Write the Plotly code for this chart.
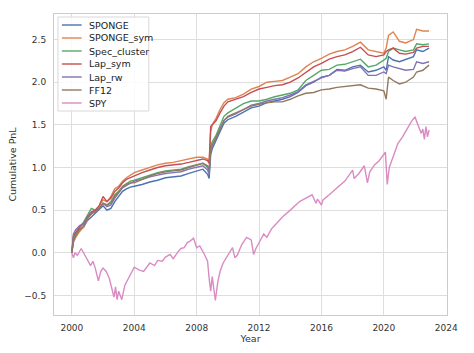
import plotly.graph_objects as go

# ---- data ----
years = [2000.0, 2000.1, 2000.25, 2000.5, 2000.75, 2001.0, 2001.25, 2001.5, 2001.75,
         2002.0, 2002.25, 2002.5, 2002.75, 2003.0, 2003.25, 2003.5, 2003.75, 2004.0,
         2004.5, 2005.0, 2005.5, 2006.0, 2006.5, 2007.0, 2007.5, 2008.0, 2008.4,
         2008.7, 2008.8, 2008.9, 2009.0, 2009.25, 2009.5, 2009.75, 2010.0, 2010.5,
         2011.0, 2011.5, 2012.0, 2012.5, 2013.0, 2013.5, 2014.0, 2014.5, 2015.0,
         2015.5, 2016.0, 2016.5, 2017.0, 2017.5, 2018.0, 2018.5, 2019.0, 2019.5,
         2020.0, 2020.15, 2020.3, 2020.6, 2021.0, 2021.4, 2021.9, 2022.1, 2022.5, 2022.9]

sponge = [0.0, 0.18, 0.22, 0.28, 0.30, 0.38, 0.42, 0.46, 0.50, 0.55, 0.50, 0.52, 0.60,
          0.66, 0.72, 0.75, 0.77, 0.78, 0.80, 0.83, 0.85, 0.88, 0.89, 0.90, 0.93, 0.96,
          0.98, 0.92, 0.87, 1.15, 1.22, 1.32, 1.42, 1.52, 1.56, 1.60, 1.65, 1.70, 1.72,
          1.76, 1.78, 1.80, 1.83, 1.88, 1.96, 2.00, 2.06, 2.08, 2.15, 2.14, 2.18, 2.20,
          2.12, 2.14, 2.18, 2.14, 2.30, 2.26, 2.24, 2.27, 2.30, 2.38, 2.36, 2.40]

sponge_sym = [0.0, 0.12, 0.18, 0.25, 0.30, 0.40, 0.45, 0.50, 0.55, 0.62, 0.60, 0.66, 0.75,
              0.78, 0.84, 0.88, 0.91, 0.94, 0.97, 1.00, 1.03, 1.05, 1.06, 1.08, 1.10, 1.12,
              1.12, 1.10, 1.05, 1.42, 1.50, 1.58, 1.68, 1.76, 1.80, 1.82, 1.86, 1.92, 1.95,
              2.00, 2.01, 2.02, 2.06, 2.10, 2.18, 2.24, 2.28, 2.33, 2.36, 2.38, 2.42, 2.47,
              2.38, 2.36, 2.34, 2.40, 2.55, 2.59, 2.48, 2.46, 2.50, 2.62, 2.60, 2.60]

spec_cluster = [0.0, 0.15, 0.22, 0.30, 0.36, 0.44, 0.52, 0.50, 0.52, 0.58, 0.56, 0.60, 0.68,
                0.72, 0.78, 0.81, 0.84, 0.85, 0.88, 0.91, 0.94, 0.96, 0.97, 0.98, 1.01, 1.03,
                1.05, 1.00, 0.95, 1.25, 1.30, 1.38, 1.50, 1.60, 1.64, 1.70, 1.75, 1.78, 1.78,
                1.80, 1.83, 1.85, 1.87, 1.91, 2.02, 2.08, 2.14, 2.15, 2.20, 2.21, 2.24, 2.27,
                2.18, 2.20, 2.26, 2.28, 2.36, 2.40, 2.38, 2.36, 2.38, 2.45, 2.44, 2.45]

lap_sym = [0.0, 0.20, 0.24, 0.30, 0.34, 0.42, 0.48, 0.50, 0.55, 0.66, 0.60, 0.64, 0.72,
           0.76, 0.82, 0.86, 0.88, 0.90, 0.94, 0.97, 1.00, 1.02, 1.03, 1.04, 1.06, 1.08,
           1.10, 1.08, 1.05, 1.48, 1.50, 1.55, 1.64, 1.72, 1.77, 1.80, 1.83, 1.88, 1.92,
           1.94, 1.96, 1.97, 2.00, 2.05, 2.12, 2.18, 2.22, 2.27, 2.30, 2.32, 2.36, 2.41,
           2.32, 2.30, 2.32, 2.36, 2.38, 2.40, 2.34, 2.33, 2.35, 2.40, 2.42, 2.42]

lap_rw = [0.0, 0.22, 0.27, 0.32, 0.34, 0.42, 0.47, 0.48, 0.52, 0.58, 0.54, 0.56, 0.64,
          0.70, 0.76, 0.79, 0.82, 0.84, 0.86, 0.89, 0.91, 0.93, 0.94, 0.95, 0.98, 1.00,
          1.02, 0.97, 0.92, 1.20, 1.26, 1.34, 1.45, 1.55, 1.59, 1.63, 1.68, 1.73, 1.75,
          1.78, 1.80, 1.82, 1.85, 1.89, 1.97, 2.01, 2.05, 2.08, 2.14, 2.13, 2.16, 2.18,
          2.08, 2.08, 2.12, 2.10, 2.20, 2.18, 2.16, 2.14, 2.15, 2.24, 2.22, 2.24]

ff12 = [0.0, 0.14, 0.20, 0.27, 0.31, 0.40, 0.46, 0.48, 0.52, 0.58, 0.56, 0.58, 0.66,
        0.71, 0.77, 0.80, 0.82, 0.82, 0.86, 0.90, 0.93, 0.95, 0.96, 0.97, 1.00, 1.03,
        1.05, 1.02, 0.97, 1.22, 1.26, 1.34, 1.46, 1.55, 1.60, 1.64, 1.68, 1.72, 1.74,
        1.76, 1.77, 1.77, 1.80, 1.84, 1.87, 1.88, 1.91, 1.92, 1.94, 1.95, 1.96, 1.97,
        1.93, 1.92, 1.90, 1.80, 2.06, 2.02, 1.98, 2.00, 2.06, 2.12, 2.14, 2.20]

spy_years = [2000.0, 2000.1, 2000.2, 2000.35, 2000.6, 2000.8, 2001.0, 2001.2, 2001.35, 2001.5,
             2001.7, 2001.85, 2002.0, 2002.2, 2002.4, 2002.55, 2002.7, 2002.8, 2002.9, 2003.0,
             2003.1, 2003.2, 2003.4, 2003.6, 2003.8, 2004.0, 2004.3, 2004.6, 2004.8, 2005.0,
             2005.3, 2005.5, 2005.8, 2006.0, 2006.3, 2006.5, 2006.8, 2007.0, 2007.2, 2007.4,
             2007.6, 2007.8, 2008.0, 2008.2, 2008.5, 2008.7, 2008.8, 2008.9, 2009.0, 2009.1,
             2009.2, 2009.35, 2009.5, 2009.7, 2010.0, 2010.3, 2010.45, 2010.6, 2010.9, 2011.2,
             2011.5, 2011.65, 2011.8, 2012.0, 2012.3, 2012.5, 2012.8, 2013.0, 2013.5, 2014.0,
             2014.3, 2014.6, 2015.0, 2015.4, 2015.65, 2015.75, 2016.0, 2016.1, 2016.5, 2017.0,
             2017.5, 2018.0, 2018.1, 2018.4, 2018.75, 2018.95, 2019.1, 2019.4, 2019.7, 2020.1,
             2020.18, 2020.22, 2020.35, 2020.6, 2020.9, 2021.2, 2021.5, 2021.8, 2022.0, 2022.2,
             2022.4, 2022.5, 2022.6, 2022.7, 2022.8, 2022.9]

spy = [0.0, -0.06, 0.0, -0.03, 0.05, -0.02, -0.08, -0.15, -0.10, -0.18,
       -0.33, -0.22, -0.18, -0.22, -0.30, -0.42, -0.52, -0.40, -0.55, -0.45,
       -0.50, -0.55, -0.38, -0.30, -0.24, -0.17, -0.20, -0.22, -0.17, -0.12,
       -0.15, -0.09, -0.10, -0.05, -0.02, -0.07, 0.01, 0.05, 0.06, 0.12,
       0.14, 0.17, 0.06, 0.08, -0.02, -0.10, -0.30, -0.45, -0.28, -0.40,
       -0.56, -0.35, -0.22, -0.12, -0.03, 0.06, -0.06, -0.03, 0.10, 0.18,
       0.15, -0.02, 0.05, 0.12, 0.22, 0.18, 0.28, 0.32, 0.42, 0.50,
       0.55, 0.60, 0.64, 0.68, 0.58, 0.63, 0.56, 0.62, 0.68, 0.76,
       0.84, 0.97, 0.87, 0.93, 1.02, 0.82, 0.95, 1.03, 1.08, 1.18,
       0.95, 0.80, 1.00, 1.14, 1.28, 1.36, 1.46, 1.55, 1.59, 1.50,
       1.40, 1.45, 1.33, 1.48, 1.36, 1.44]

x_ticks = [2000, 2004, 2008, 2012, 2016, 2020, 2024]
y_ticks = [-0.5, 0.0, 0.5, 1.0, 1.5, 2.0, 2.5]

series = [
    ("SPONGE", years, sponge, "#4C72B0"),
    ("SPONGE_sym", years, sponge_sym, "#DD8452"),
    ("Spec_cluster", years, spec_cluster, "#55A868"),
    ("Lap_sym", years, lap_sym, "#C44E52"),
    ("Lap_rw", years, lap_rw, "#8172B3"),
    ("FF12", years, ff12, "#937860"),
    ("SPY", spy_years, spy, "#DA8BC3"),
]

W, H = 474, 353
ML, MR, MT, MB = 49, 27, 14, 38
PW, PH = W - ML - MR, H - MT - MB


def px(x):
    return (x - ML) / PW


def py(y):
    return 1 - (y - MT) / PH


fig = go.Figure()
for name, xs, ys, col in series:
    fig.add_trace(go.Scatter(x=xs, y=ys, mode="lines", name=name,
                             line=dict(color=col, width=1.4), showlegend=False))

font = "DejaVu Sans, sans-serif"

# custom compact legend (matplotlib-like)
shapes = [dict(type="rect", xref="paper", yref="paper",
               x0=px(53), x1=px(145), y0=py(111), y1=py(17),
               line=dict(color="#d8d8d8", width=1), fillcolor="rgba(255,255,255,0.85)",
               layer="above")]
annotations = []
for i, (name, xs, ys, col) in enumerate(series):
    yc = 25 + 13 * i
    shapes.append(dict(type="line", xref="paper", yref="paper",
                       x0=px(57), x1=px(77), y0=py(yc), y1=py(yc),
                       line=dict(color=col, width=1.4), layer="above"))
    annotations.append(dict(xref="paper", yref="paper", x=px(82), y=py(yc),
                            text=name, showarrow=False, xanchor="left", yanchor="middle",
                            font=dict(family=font, size=9.5, color="#222222")))

fig.update_layout(
    width=W, height=H,
    margin=dict(l=ML, r=MR, t=MT, b=MB),
    paper_bgcolor="white", plot_bgcolor="white",
    font=dict(family=font, size=9, color="#333333"),
    showlegend=False,
    shapes=shapes, annotations=annotations,
    xaxis=dict(range=[1998.855, 2024.05], tickvals=x_ticks,
               ticktext=[str(t) for t in x_ticks],
               showgrid=True, gridcolor="#dedede", gridwidth=1,
               zeroline=False, showline=True, linecolor="#cccccc", mirror=True,
               ticks="outside", ticklen=4, tickcolor="rgba(0,0,0,0)",
               title=dict(text="Year", standoff=2, font=dict(size=9.5))),
    yaxis=dict(range=[-0.73, 2.80], tickvals=y_ticks,
               ticktext=["\u22120.5", "0.0", "0.5", "1.0", "1.5", "2.0", "2.5"],
               showgrid=True, gridcolor="#dedede", gridwidth=1,
               zeroline=False, showline=True, linecolor="#cccccc", mirror=True,
               ticks="outside", ticklen=5, tickcolor="rgba(0,0,0,0)",
               title=dict(text="Cumulative PnL", standoff=6, font=dict(size=9.5))),
)

fig.write_html("out.html")
